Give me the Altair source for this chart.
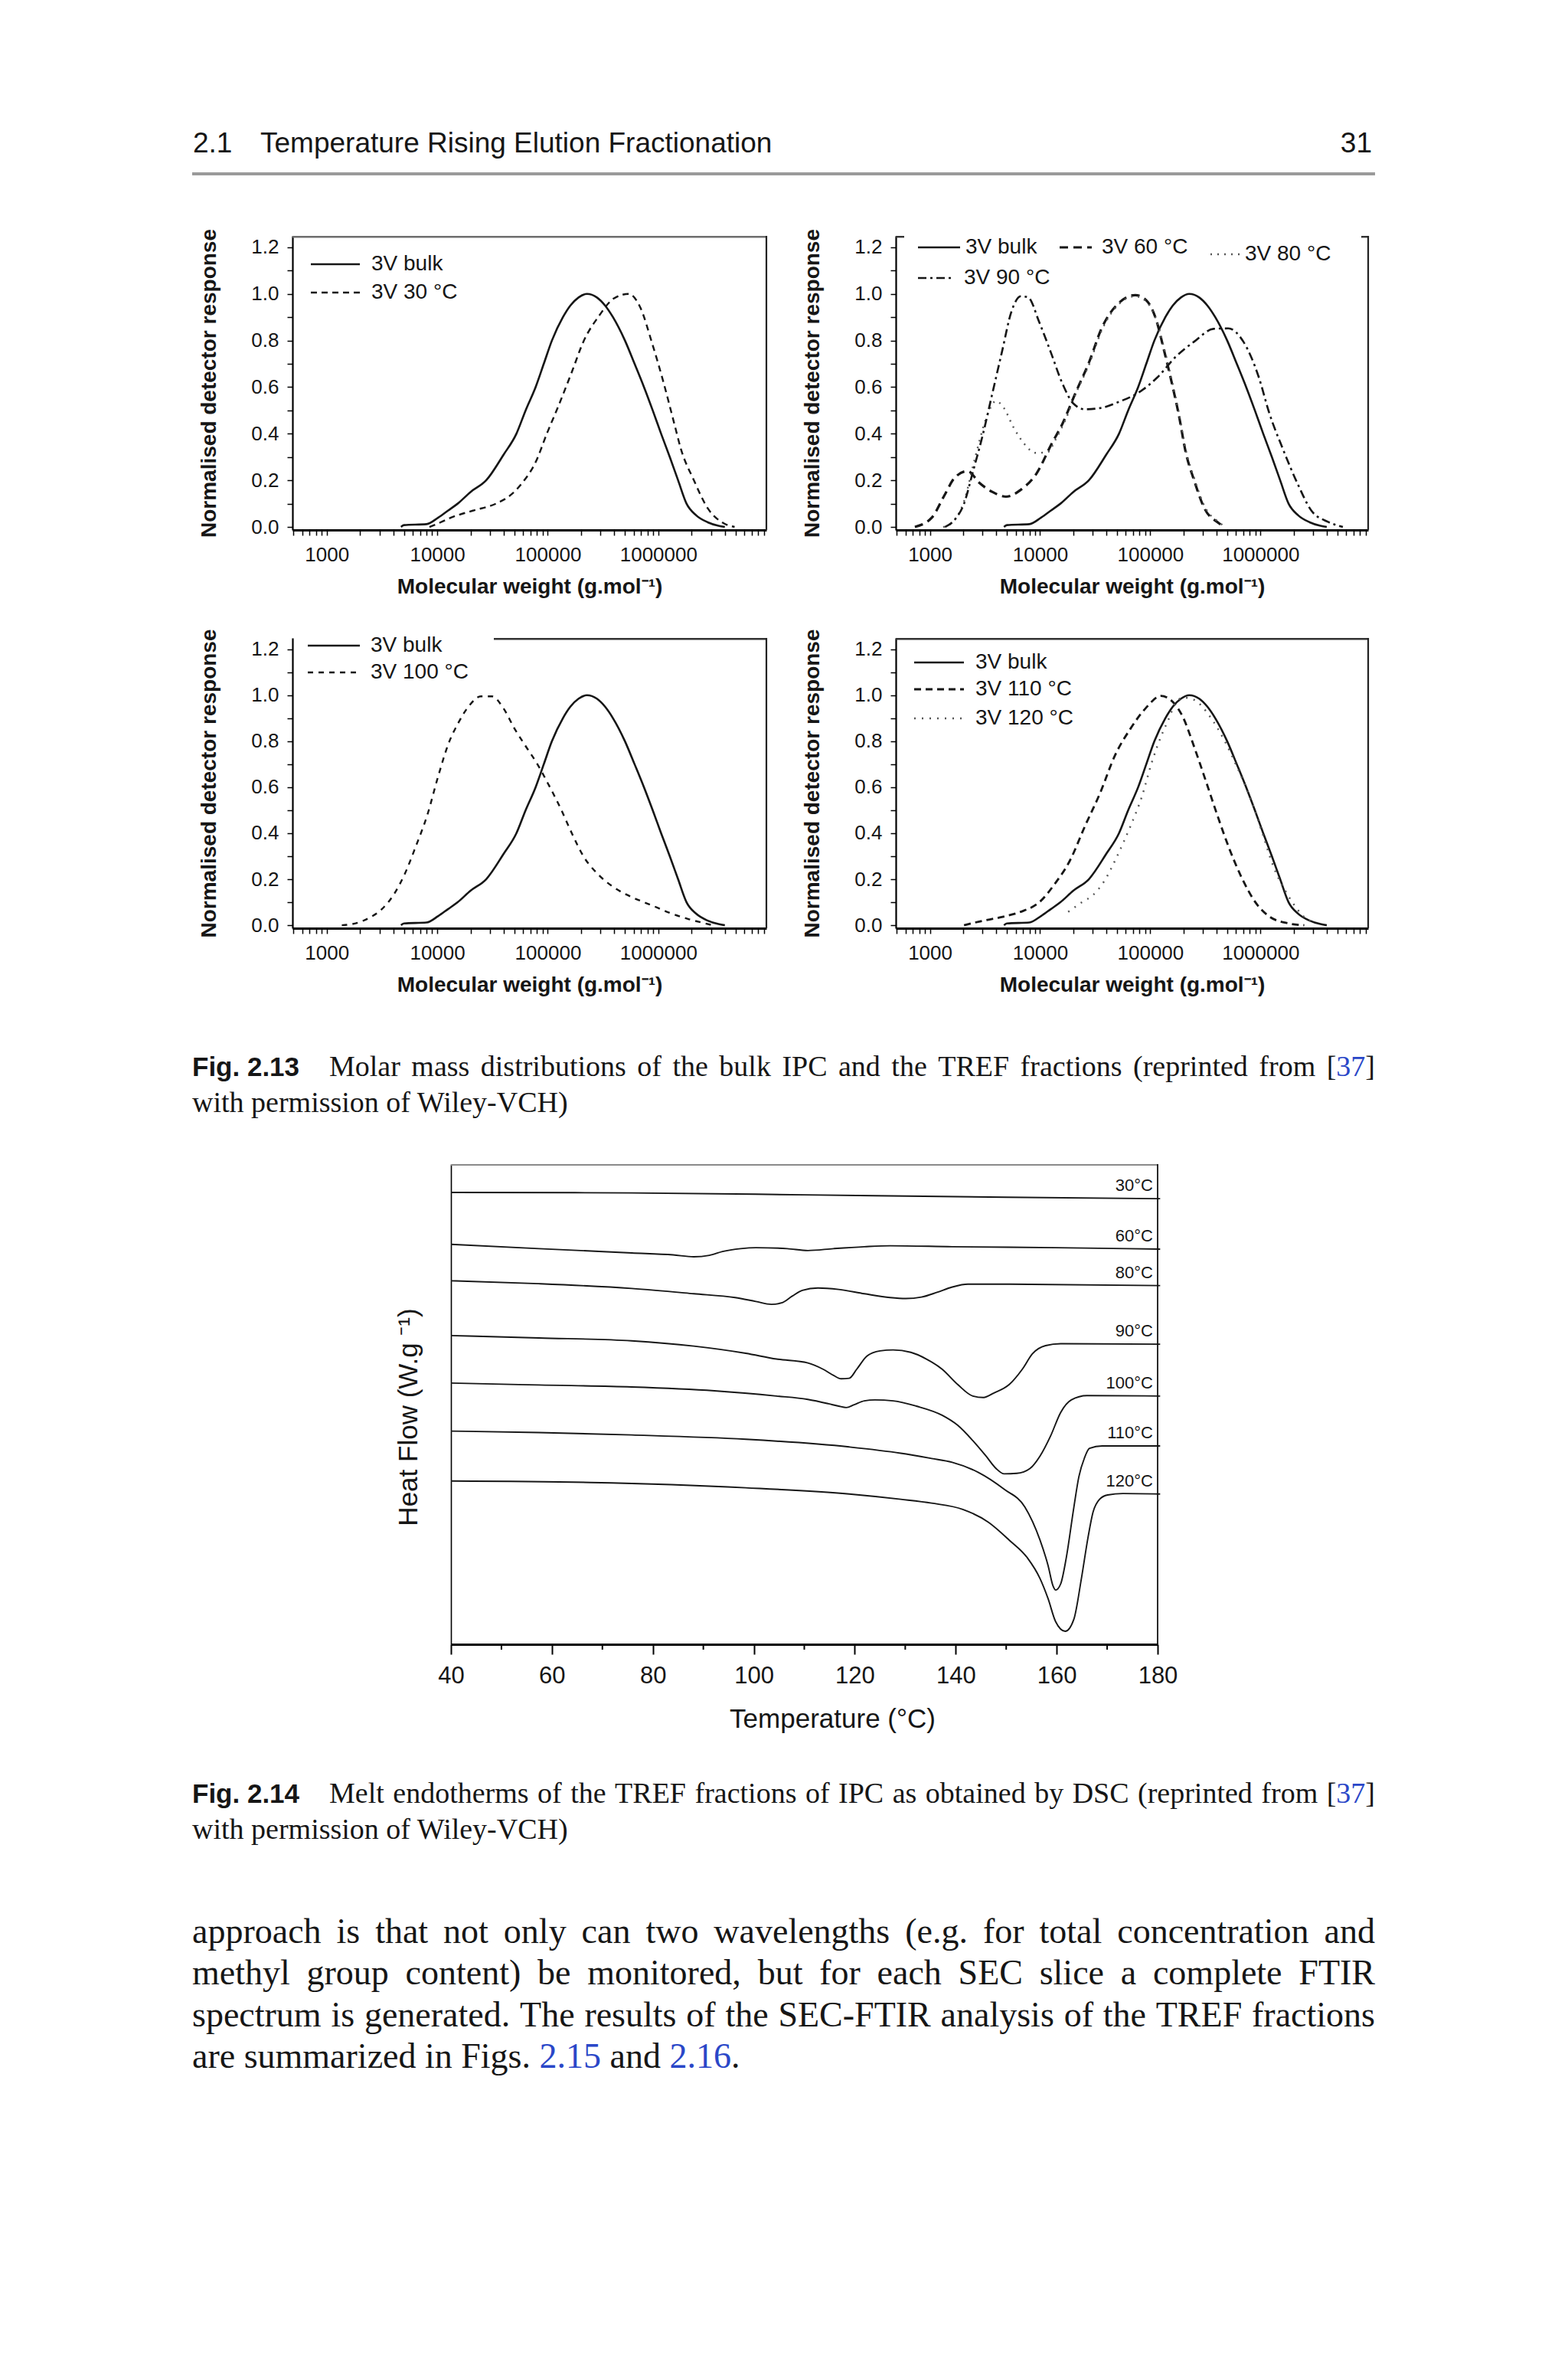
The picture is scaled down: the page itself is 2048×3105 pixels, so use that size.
import altair as alt
import pandas as pd

SANS = "Liberation Sans, Arial, Helvetica, sans-serif"
SERIF = "Liberation Serif, Times New Roman, Times, serif"
INK = "#161616"
LINK = "#2a47c8"

# ---------------- page text ----------------
HEADER_NUM = "2.1"
HEADER_TITLE = "Temperature Rising Elution Fractionation"
PAGE_NO = "31"
CAP213 = ["Fig. 2.13",
          "Molar mass distributions of the bulk IPC and the TREF fractions (reprinted from [37]",
          "with permission of Wiley-VCH)"]
CAP214 = ["Fig. 2.14",
          "Melt endotherms of the TREF fractions of IPC as obtained by DSC (reprinted from [37]",
          "with permission of Wiley-VCH)"]
REF_NUM = "37"
BODY = ["approach is that not only can two wavelengths (e.g. for total concentration and",
        "methyl group content) be monitored, but for each SEC slice a complete FTIR",
        "spectrum is generated. The results of the SEC-FTIR analysis of the TREF fractions"]
BODY_LAST = ["are summarized in Figs. ", "2.15", " and ", "2.16", "."]

# ---------------- Fig 2.13: molar mass distributions ----------------
BULK_MW = [4700, 5000, 8000, 10200, 12500, 15300, 20000, 27700, 39800, 52000, 63000, 77600, 92000, 109000,
           137000, 160000, 190000, 226000, 278000, 330000, 389000, 499000, 610000, 742000, 890000,
           1060000, 1270000, 1510000, 1800000, 2200000, 2800000, 3500000, 4000000]
BULK_Y = [0.0, 0.008, 0.012, 0.04, 0.07, 0.10, 0.15, 0.20, 0.31, 0.40, 0.50, 0.60, 0.70, 0.80,
          0.90, 0.95, 0.985, 1.0, 0.985, 0.95, 0.90, 0.80, 0.70, 0.60, 0.50,
          0.40, 0.30, 0.20, 0.10, 0.05, 0.02, 0.005, 0.0]
F30_MW = [8500, 9600, 14000, 21000, 34000, 47000, 59000, 78000, 98000, 125000, 165000, 210000, 290000,
          395000, 540000, 690000, 870000, 1100000, 1400000, 1600000, 2100000, 2800000, 3900000, 4900000]
F30_Y = [0.0, 0.01, 0.044, 0.07, 0.10, 0.14, 0.19, 0.28, 0.40, 0.52, 0.665, 0.795, 0.905,
         0.98, 1.0, 0.94, 0.795, 0.63, 0.44, 0.335, 0.20, 0.08, 0.016, 0.0]
F60_MW = [730, 1040, 1370, 1670, 2200, 2800, 3700, 4900, 6700, 9300, 12700, 16000, 21000, 28000,
          36000, 53000, 73000, 93000, 113000, 133000, 160000, 180000, 210000, 250000, 310000,
          420000, 470000]
F60_Y = [0.0, 0.04, 0.14, 0.21, 0.24, 0.19, 0.15, 0.13, 0.16, 0.23, 0.356, 0.444, 0.576, 0.71,
         0.85, 0.965, 0.995, 0.97, 0.89, 0.76, 0.60, 0.49, 0.32, 0.20, 0.08,
         0.016, 0.0]
F80_MW = [1320, 1610, 2040, 2580, 3240, 3970, 4700, 5700, 7200, 9100, 11600, 14000, 17000, 21000,
          28000, 36000, 53000, 73000, 93000, 113000, 133000, 160000, 180000, 210000, 250000,
          310000, 420000, 480000]
F80_Y = [0.0, 0.02, 0.11, 0.30, 0.466, 0.54, 0.51, 0.43, 0.356, 0.318, 0.32, 0.38, 0.46, 0.57,
         0.70, 0.84, 0.96, 0.99, 0.965, 0.89, 0.77, 0.61, 0.50, 0.33, 0.21,
         0.09, 0.02, 0.0]
F90_MW = [1370, 1670, 2040, 2450, 3000, 3700, 4500, 5500, 6700, 7800, 9800, 12500, 15800, 20000,
          25500, 35000, 52000, 78000, 115000, 170000, 250000, 375000, 510000, 700000, 970000,
          1200000, 1600000, 2200000, 2900000, 4100000, 5600000]
F90_Y = [0.0, 0.03, 0.10, 0.235, 0.39, 0.576, 0.75, 0.925, 0.99, 0.985, 0.88, 0.75, 0.62, 0.53,
         0.505, 0.51, 0.537, 0.576, 0.64, 0.73, 0.795, 0.85, 0.852, 0.795, 0.64,
         0.49, 0.334, 0.18, 0.07, 0.022, 0.0]
F100_MW = [1370, 1880, 2380, 3150, 4000, 5050, 6400, 8100, 10300, 12600, 15400, 19500, 24700, 31300,
           39600, 50000, 63400, 80600, 102000, 130000, 165000, 210000, 287000, 395000, 590000,
           870000, 1280000, 1900000, 2600000, 3100000]
F100_Y = [0.0, 0.01, 0.03, 0.07, 0.13, 0.22, 0.343, 0.477, 0.655, 0.788, 0.877, 0.955, 0.995, 0.995,
          0.944, 0.855, 0.777, 0.70, 0.61, 0.51, 0.40, 0.30, 0.22, 0.165, 0.12,
          0.087, 0.053, 0.026, 0.009, 0.0]
F110_MW = [2040, 2800, 4500, 6650, 10000, 13600, 18600, 25500, 35000, 48000, 66000, 91000, 125000,
           150000, 200000, 250000, 318000, 405000, 515000, 680000, 890000, 1220000, 1800000, 2500000]
F110_Y = [0.0, 0.016, 0.036, 0.058, 0.103, 0.18, 0.28, 0.43, 0.574, 0.74, 0.854, 0.944, 0.997,
          0.983, 0.90, 0.776, 0.63, 0.48, 0.34, 0.204, 0.103, 0.036, 0.008, 0.0]
F120_MW = [18000, 24500, 30000, 38000, 50000, 66000, 84000, 102000, 125000, 145000, 170000, 200000,
           250000, 345000, 475000, 630000, 830000, 1050000, 1300000, 1800000, 2500000, 3200000]
F120_Y = [0.058, 0.103, 0.13, 0.19, 0.30, 0.43, 0.56, 0.70, 0.82, 0.89, 0.966, 0.99,
          0.98, 0.91, 0.80, 0.675, 0.54, 0.395, 0.26, 0.126, 0.036, 0.008]

SERIES = {"bulk": (BULK_MW, BULK_Y), "30": (F30_MW, F30_Y), "60": (F60_MW, F60_Y),
          "80": (F80_MW, F80_Y), "90": (F90_MW, F90_Y), "100": (F100_MW, F100_Y),
          "110": (F110_MW, F110_Y), "120": (F120_MW, F120_Y)}
LEGEND = {"bulk": "3V bulk", "30": "3V 30 °C", "60": "3V 60 °C", "80": "3V 80 °C",
          "90": "3V 90 °C", "100": "3V 100 °C", "110": "3V 110 °C", "120": "3V 120 °C"}
DECADES = [1000, 10000, 100000, 1000000]
Y_TICKS = [0.0, 0.1, 0.2, 0.3, 0.4, 0.5, 0.6, 0.7, 0.8, 0.9, 1.0, 1.1, 1.2]

# ---------------- Fig 2.14: DSC melt endotherms ----------------
DSC_LABELS = ["30°C", "60°C", "80°C", "90°C", "100°C", "110°C", "120°C"]
T30 = [40, 75.8, 110, 150, 180.5]
H30 = [9.41, 9.40, 9.36, 9.31, 9.28]
T60 = [40, 57.4, 75.8, 84.0, 88.1, 91.2, 93.8, 97.4, 100.4, 106.6, 110.7, 115.8, 121.9, 127.0, 139.3, 159.8, 180.5]
H60 = [8.33, 8.24, 8.15, 8.11, 8.07, 8.10, 8.18, 8.24, 8.26, 8.24, 8.20, 8.24, 8.28, 8.30, 8.28, 8.26, 8.23]
T80 = [40, 57.4, 75.8, 88.1, 96.3, 100.4, 103.5, 105.5, 107.6, 109.6, 112.7, 116.8, 121.9, 127.0, 130.1, 133.2,
       136.3, 139.3, 142.4, 149.6, 180.5]
H80 = [7.57, 7.51, 7.41, 7.30, 7.22, 7.14, 7.08, 7.11, 7.25, 7.37, 7.42, 7.39, 7.30, 7.22, 7.20, 7.23,
       7.33, 7.44, 7.50, 7.50, 7.47]
T90 = [40, 57.4, 75.8, 88.1, 98.4, 104.5, 110.7, 113.7, 115.8, 117.3, 118.9, 120.4, 122.4, 125.0, 127.6, 131.1,
       134.2, 137.3, 140.4, 143.4, 145.5, 147.5, 150.6, 153.2, 155.2, 157.8, 160.8, 180.5]
H90 = [6.43, 6.38, 6.32, 6.21, 6.06, 5.94, 5.86, 5.73, 5.60, 5.53, 5.54, 5.73, 6.00, 6.11, 6.13, 6.08,
       5.94, 5.73, 5.41, 5.17, 5.14, 5.23, 5.41, 5.73, 6.05, 6.22, 6.26, 6.25]
T100 = [40, 57.4, 75.8, 92.2, 104.5, 110.7, 114.8, 116.8, 118.3, 119.9, 121.9, 124.0, 127.6, 132.2, 137.3, 140.4,
        143.4, 146.0, 148.0, 149.6, 152.1, 154.7, 156.7, 158.8, 160.8, 162.9, 166.0, 180.5]
H100 = [5.44, 5.40, 5.36, 5.28, 5.17, 5.10, 5.01, 4.96, 4.93, 4.99, 5.07, 5.09, 5.07, 4.96, 4.77, 4.56,
        4.24, 3.92, 3.66, 3.55, 3.56, 3.66, 3.92, 4.34, 4.83, 5.09, 5.18, 5.17]
T110 = [40, 57.4, 75.8, 98.4, 118.9, 129.1, 135.2, 139.3, 144.5, 149.6, 153.7, 156.7, 158.3, 159.3, 159.8,
        160.8, 161.9, 163.4, 164.4, 165.5, 166.5, 169.0, 180.5]
H110 = [4.44, 4.41, 4.36, 4.27, 4.11, 3.98, 3.87, 3.79, 3.58, 3.23, 2.86, 2.17, 1.64, 1.21, 1.13,
        1.26, 1.80, 2.85, 3.49, 3.88, 4.08, 4.13, 4.13]
T120 = [40, 67.7, 98.4, 118.9, 129.1, 135.2, 141.4, 146.5, 150.6, 154.2, 156.7, 158.3, 159.8, 161.7, 163.4,
        164.9, 166.2, 167.2, 168.5, 170.1, 173.1, 180.5]
H120 = [3.40, 3.37, 3.26, 3.13, 3.02, 2.94, 2.81, 2.54, 2.17, 1.80, 1.37, 0.95, 0.47, 0.27, 0.52,
        1.37, 2.22, 2.75, 3.02, 3.11, 3.14, 3.13]
DSC_T = [T30, T60, T80, T90, T100, T110, T120]
DSC_H = [H30, H60, H80, H90, H100, H110, H120]
DSC_TICKS = [40, 60, 80, 100, 120, 140, 160, 180]
DSC_MINOR = [50, 70, 90, 110, 130, 150, 170]

# ---------------- styles ----------------
STYLE = {
    "bulk": dict(dash=None, width=2.6, color=INK),
    "30": dict(dash=[8, 6], width=2.4, color=INK),
    "60": dict(dash=[11, 7], width=3.2, color=INK),
    "80": dict(dash=[2, 7], width=2.4, color="#555555"),
    "90": dict(dash=[11, 5, 3, 5], width=2.6, color=INK),
    "100": dict(dash=[7, 7], width=2.4, color=INK),
    "110": dict(dash=[9, 6], width=2.8, color=INK),
    "120": dict(dash=[2, 8], width=2.4, color="#555555"),
}

ONE = pd.DataFrame({"k": [0]})

# Times / Liberation Serif advance widths (1/1000 em), used to lay out justified lines
TIMES_W = {" ": 250, "(": 333, ")": 333, "[": 333, "]": 333, ".": 250, ",": 250, "-": 333}
for ch in "0123456789":
    TIMES_W[ch] = 500
TIMES_W.update(dict(zip("ABCDEFGHIJKLMNOPQRSTUVWXYZ",
                        [722, 667, 667, 722, 611, 556, 722, 722, 333, 389, 722, 611, 889, 722, 722,
                         556, 722, 667, 556, 611, 722, 722, 944, 722, 722, 611])))
TIMES_W.update(dict(zip("abcdefghijklmnopqrstuvwxyz",
                        [444, 500, 444, 500, 444, 333, 500, 500, 278, 278, 500, 278, 778, 500, 500,
                         500, 500, 333, 389, 278, 500, 500, 722, 500, 500, 444])))


def tw(s, size):
    return sum(TIMES_W.get(c, 500) for c in s) * size / 1000.0


def txt(s, x, y, size, font=SERIF, weight="normal", color=INK, align="left", baseline="alphabetic"):
    return alt.Chart(ONE).mark_text(text=s, align=align, baseline=baseline, font=font, fontSize=size,
                                    fontWeight=weight, color=color).encode(x=alt.value(x), y=alt.value(y))


def word(w, x, y, size):
    """one word; a bracketed reference number is drawn with the number in link colour"""
    if w.startswith("[") and w.endswith("]") and w[1:-1] == REF_NUM:
        return [txt("[", x, y, size), txt(REF_NUM, x + tw("[", size), y, size, color=LINK),
                txt("]", x + tw("[" + REF_NUM, size), y, size)]
    return [txt(w, x, y, size)]


def justified(line, x0, x1, y, size):
    words = line.split(" ")
    widths = [tw(w, size) for w in words]
    gap = (x1 - x0 - sum(widths)) / (len(words) - 1)
    out, x = [], x0
    for w, wd in zip(words, widths):
        out += word(w, x, y, size)
        x += wd + gap
    return out


def hrule(x0, x1, y, color, width, dash=None):
    kw = dict(color=color, strokeWidth=width)
    if dash:
        kw["strokeDash"] = dash
    return alt.Chart(ONE).mark_rule(**kw).encode(x=alt.value(x0), x2=alt.value(x1), y=alt.value(y))


def vrule(x, y0, y1, color, width):
    return alt.Chart(ONE).mark_rule(color=color, strokeWidth=width).encode(
        x=alt.value(x), y=alt.value(y0), y2=alt.value(y1))


def blank():
    return alt.Chart(ONE).mark_point(opacity=0)


# ---------------- GPC panels ----------------
XT = sorted(m * 10 ** e for e in range(2, 7) for m in range(1, 10) if 490 <= m * 10 ** e <= 9.5e6)
dec_test = " || ".join("datum.value == %d" % d for d in DECADES)
XA = alt.Axis(values=XT, labelExpr="(%s) ? format(datum.value, 'd') : ''" % dec_test,
              tickSize=7, tickWidth=1.5, tickColor="black", domainWidth=3, domainColor="black",
              labelFont=SANS, labelFontSize=26, labelColor=INK, labelPadding=12, labelFlush=False,
              labelOverlap=False, title="Molecular weight (g.mol⁻¹)", titleFont=SANS, titleFontSize=28,
              titleFontWeight="bold", titleColor=INK, titlePadding=15, grid=False)
YA = alt.Axis(values=Y_TICKS, labelExpr="round(datum.value*10) % 2 == 0 ? format(datum.value, '.1f') : ''",
              tickSize=7, tickWidth=1.5, tickColor="black", domainWidth=2.2, domainColor="black",
              labelFont=SANS, labelFontSize=26, labelColor=INK, labelPadding=11, labelOverlap=False,
              title="Normalised detector response", titleFont=SANS, titleFontSize=28,
              titleFontWeight="bold", titleColor=INK, titlePadding=40, grid=False)
XS = alt.Scale(type="log", domain=[490, 9.5e6], nice=False)
YS = alt.Scale(domain=[-0.013, 1.249], nice=False, zero=False)


def gpc_panel(keys, legend_pos, top_segs, w, h, top_color="#333333"):
    layers = []
    for k in keys:
        mw, yy = SERIES[k]
        st = STYLE[k]
        kw = dict(interpolate="monotone", color=st["color"], strokeWidth=st["width"], strokeCap="butt")
        if st["dash"]:
            kw["strokeDash"] = st["dash"]
        layers.append(alt.Chart(pd.DataFrame({"mw": mw, "y": yy})).mark_line(**kw).encode(
            x=alt.X("mw:Q", scale=XS, axis=XA), y=alt.Y("y:Q", scale=YS, axis=YA)))
    for (a, b) in top_segs:
        layers.append(hrule(a, b, 1.2, top_color, 2.4))
    layers.append(vrule(w, 0, h, "#222222", 2.2))
    for k, (x0, x1, yy, tx) in zip(keys, legend_pos):
        st = STYLE[k]
        layers.append(hrule(x0, x1, yy, st["color"], st["width"], st["dash"]))
        layers.append(txt(LEGEND[k], tx, yy, 28, font=SANS, baseline="middle"))
    return alt.layer(*layers).properties(width=w, height=h)


PW1, PW2 = 619, 617
H1, H2 = 384, 379
p1 = gpc_panel(["bulk", "30"], [(24, 88, 37, 103), (24, 88, 74, 103)], [(0, PW1)], PW1, H1,
               top_color="#6e6e6e")
p2 = gpc_panel(["bulk", "60", "80", "90"],
               [(29, 84, 15, 91), (214, 256, 15, 269), (411, 449, 24, 456), (29, 74, 55, 89)],
               [(0, 11), (PW2 - 9, PW2)], PW2, H1)
p3 = gpc_panel(["bulk", "100"], [(20, 88, 10, 102), (20, 88, 45, 102)], [(263, PW1)], PW1, H2)
p4 = gpc_panel(["bulk", "110", "120"], [(24, 89, 32, 104), (24, 89, 67, 104), (24, 89, 105, 104)],
               [(0, PW2)], PW2, H2)

CS = 38   # caption font size
BS = 46   # body font size
RIGHT = 1788


def caption(cap, y1, y2):
    return ([txt(cap[0], 243, y1, 35, font=SANS, weight="bold")]
            + justified(cap[1], 422, RIGHT, y1, CS)
            + [txt(cap[2], 243, y2, CS)])


# left column of row B: empty area under the panels and their axes
left_b = alt.layer(blank()).properties(width=205, height=512)
# left column of row C: panels + caption of Fig. 2.13
left_c = alt.layer(blank(), *caption(CAP213, 572, 619)).properties(width=205, height=686)

row_b = alt.hconcat(left_b, p1, p2, spacing=169, bounds="flush")
row_c = alt.hconcat(left_c, p3, p4, spacing=169, bounds="flush")

# ---------------- DSC chart ----------------
DW, DH = 923, 627
XS_D = alt.Scale(domain=[40, 180], nice=False)
YS_D = alt.Scale(domain=[0, 10], nice=False, zero=False)
XA_D = alt.Axis(values=DSC_TICKS, format="d", tickSize=13, tickWidth=2, tickColor="black", domainWidth=3,
                domainColor="black", labelFont=SANS, labelFontSize=31, labelColor=INK, labelPadding=13,
                labelFlush=False, labelOverlap=False, title="Temperature (°C)", titleFont=SANS,
                titleFontSize=35, titleFontWeight="normal", titleColor=INK, titlePadding=24, titleX=498,
                grid=False)
YA_D = alt.Axis(labels=False, ticks=False, domainWidth=1.6, domainColor="black", title="Heat Flow (W.g ⁻¹)",
                titleFont=SANS, titleFontSize=35, titleFontWeight="normal", titleColor=INK, titlePadding=38,
                titleY=330, grid=False)

dsc_df = pd.concat([pd.DataFrame({"T": t, "H": hh, "s": lab})
                    for t, hh, lab in zip(DSC_T, DSC_H, DSC_LABELS)], ignore_index=True)
dsc_lines = alt.Chart(dsc_df).mark_line(interpolate="monotone", color=INK, strokeWidth=1.9).encode(
    x=alt.X("T:Q", scale=XS_D, axis=XA_D), y=alt.Y("H:Q", scale=YS_D, axis=YA_D), detail="s:N")
dsc_minor = alt.Chart(pd.DataFrame({"t": DSC_MINOR})).mark_rule(color="black", strokeWidth=2).encode(
    x=alt.X("t:Q", scale=XS_D, axis=XA_D), y=alt.value(DH), y2=alt.value(DH + 7))
lab_df = pd.DataFrame({"lab": DSC_LABELS, "H": [hh[-1] for hh in DSC_H]})
dsc_labels = alt.Chart(lab_df).mark_text(align="right", baseline="alphabetic", dx=-6, dy=-10, font=SANS,
                                         fontSize=22, color=INK).encode(
    x=alt.value(DW), y=alt.Y("H:Q", scale=YS_D, axis=YA_D), text="lab:N")
dsc = alt.layer(dsc_lines, dsc_minor, dsc_labels, hrule(0, DW, 1, "#8a8a8a", 1.8),
                vrule(DW, 0, DH, "#111111", 1.8)).properties(width=DW, height=DH)

# left column of row E: caption of Fig. 2.14 and body text
body_layers = [blank()] + caption(CAP214, 834, 881)
BODY_Y = [1017, 1071, 1126, 1180]
for line, yy in zip(BODY, BODY_Y[:3]):
    body_layers += justified(line, 243, RIGHT, yy, BS)
xpos = 243
for i, piece in enumerate(BODY_LAST):
    body_layers.append(txt(piece.strip(), xpos + (tw(" ", BS) if piece.startswith(" ") else 0), BODY_Y[3], BS,
                           color=LINK if i in (1, 3) else INK))
    xpos += tw(piece, BS)
left_e = alt.layer(*body_layers).properties(width=581, height=1578)
row_e = alt.hconcat(left_e, dsc, spacing=0, bounds="flush")

# ---------------- running header ----------------
PAGE_W = 2032
row_a = alt.layer(
    txt(HEADER_NUM, 244, 191, 37, font=SANS),
    txt(HEADER_TITLE, 332, 191, 37, font=SANS),
    txt(PAGE_NO, 1784, 191, 37, font=SANS, align="right"),
    hrule(243, 1788, 219, "#9a9a9a", 4),
).properties(width=PAGE_W, height=290)

chart = alt.vconcat(row_a, row_b, row_c, row_e, spacing=0, padding=0,
                    background="white").configure_view(stroke=None)

chart.save("out.html", embed_options={"renderer": "svg", "actions": False})
